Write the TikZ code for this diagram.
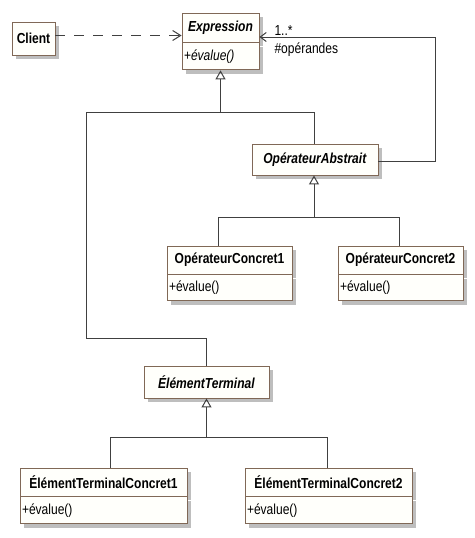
\documentclass[tikz,border=0pt]{standalone}
\usepackage{fontspec}
\setmainfont{Liberation Sans}[FakeStretch=0.83]
\usetikzlibrary{arrows.meta,positioning,shadows}
\definecolor{umlrand}{RGB}{128,104,86}
\definecolor{umlfond}{RGB}{255,255,251}
\definecolor{umlschatten}{RGB}{190,190,190}
\definecolor{umllinie}{RGB}{64,64,64}
\newcommand{\umlschrift}{\fontsize{14.5}{17}\selectfont}

\begin{document}
\begin{tikzpicture}[x=1pt, y=-1pt,
			klasse/.style={draw=umlrand, fill=umlfond, line width=0.9pt, inner sep=2pt,
				drop shadow={shadow xshift=4pt, shadow yshift=-4pt, fill=umlschatten, opacity=1}},
			kname/.style={klasse, font=\umlschrift\bfseries, minimum width=#1, minimum height=29pt},
			kop/.style={klasse, text width=#1, align=left, minimum height=27pt},
			linie/.style={draw=umllinie, line width=1pt},
			gen/.style={linie, -{Triangle[open, length=9pt, width=10pt]}},
			abh/.style={linie, dash pattern=on 10pt off 9pt, -{Straight Barb[length=8pt, width=10pt]}},
			assoc/.style={linie, -{Straight Barb[length=6pt, width=9pt]}},
			font=\umlschrift]
			\useasboundingbox (0,0) rectangle (474,538);
			%Klassen
			\node[kname=43pt, minimum height=33pt] (client) at (33.5,38.5) {Client};
			\node[kname=77pt] (expr) at (220.5,27.5) {\textit{Expression}};
			\node[kop=73pt, below=0pt of expr] (exprop) {+\textit{évalue()}};
			\node[kname=126pt, minimum height=31pt] (oa) at (315,159.5) {\textit{OpérateurAbstrait}};
			\node[kname=125pt, minimum height=28pt] (oc1) at (229.5,260) {OpérateurConcret1};
			\node[kop=121pt, minimum height=26pt, below=0pt of oc1] (oc1op) {+évalue()};
			\node[kname=125pt, minimum height=28pt] (oc2) at (400.5,260) {OpérateurConcret2};
			\node[kop=121pt, minimum height=26pt, below=0pt of oc2] (oc2op) {+évalue()};
			\node[kname=125pt, minimum height=32pt] (et) at (206.5,382) {\textit{ÉlémentTerminal}};
			\node[kname=167pt, minimum height=28pt] (etc1) at (103.5,482) {ÉlémentTerminalConcret1};
			\node[kop=163pt, below=0pt of etc1] (etc1op) {+évalue()};
			\node[kname=167pt, minimum height=28pt] (etc2) at (328.5,482) {ÉlémentTerminalConcret2};
			\node[kop=163pt, below=0pt of etc2] (etc2op) {+évalue()};
			%Abhaengigkeit
			\draw[abh] ([yshift=3pt]client.east) -- ([yshift=3pt]client.east -| expr.west);
			%Vererbung Expression
			\coordinate (gabel1) at (220.5,112);
			\coordinate (eckeU) at (86,338);
			\coordinate (eckeO) at (86,112);
			\draw[linie] ([xshift=-1pt]oa.north) |- (gabel1);
			\draw[linie] (et.north) |- (eckeU) -- (eckeO) -- (gabel1);
			\draw[gen] (gabel1) -- (exprop.south);
			%Vererbung OperateurAbstrait
			\coordinate (gabel2) at (314,217);
			\draw[linie] ([xshift=-11.5pt]oc1.north) |- (gabel2);
			\draw[linie] ([xshift=-1.5pt]oc2.north) |- (gabel2);
			\draw[gen] (gabel2) -- ([xshift=-1pt]oa.south);
			%Vererbung ElementTerminal
			\coordinate (gabel3) at (206.5,437);
			\draw[linie] ([xshift=6.5pt]etc1.north) |- (gabel3);
			\draw[linie] ([xshift=-1.5pt]etc2.north) |- (gabel3);
			\draw[gen] (gabel3) -- (et.south);
			%Assoziation
			\coordinate (assocR) at (435,37);
			\draw[assoc] ([yshift=-1.5pt]oa.east) -| (assocR) -- (assocR -| expr.east);
			\node[anchor=base west] (mult) at (271,35) {1..*};
			\node[anchor=west] (rolle) at (271,50) {\#opérandes};
		\end{tikzpicture}
\end{document}
